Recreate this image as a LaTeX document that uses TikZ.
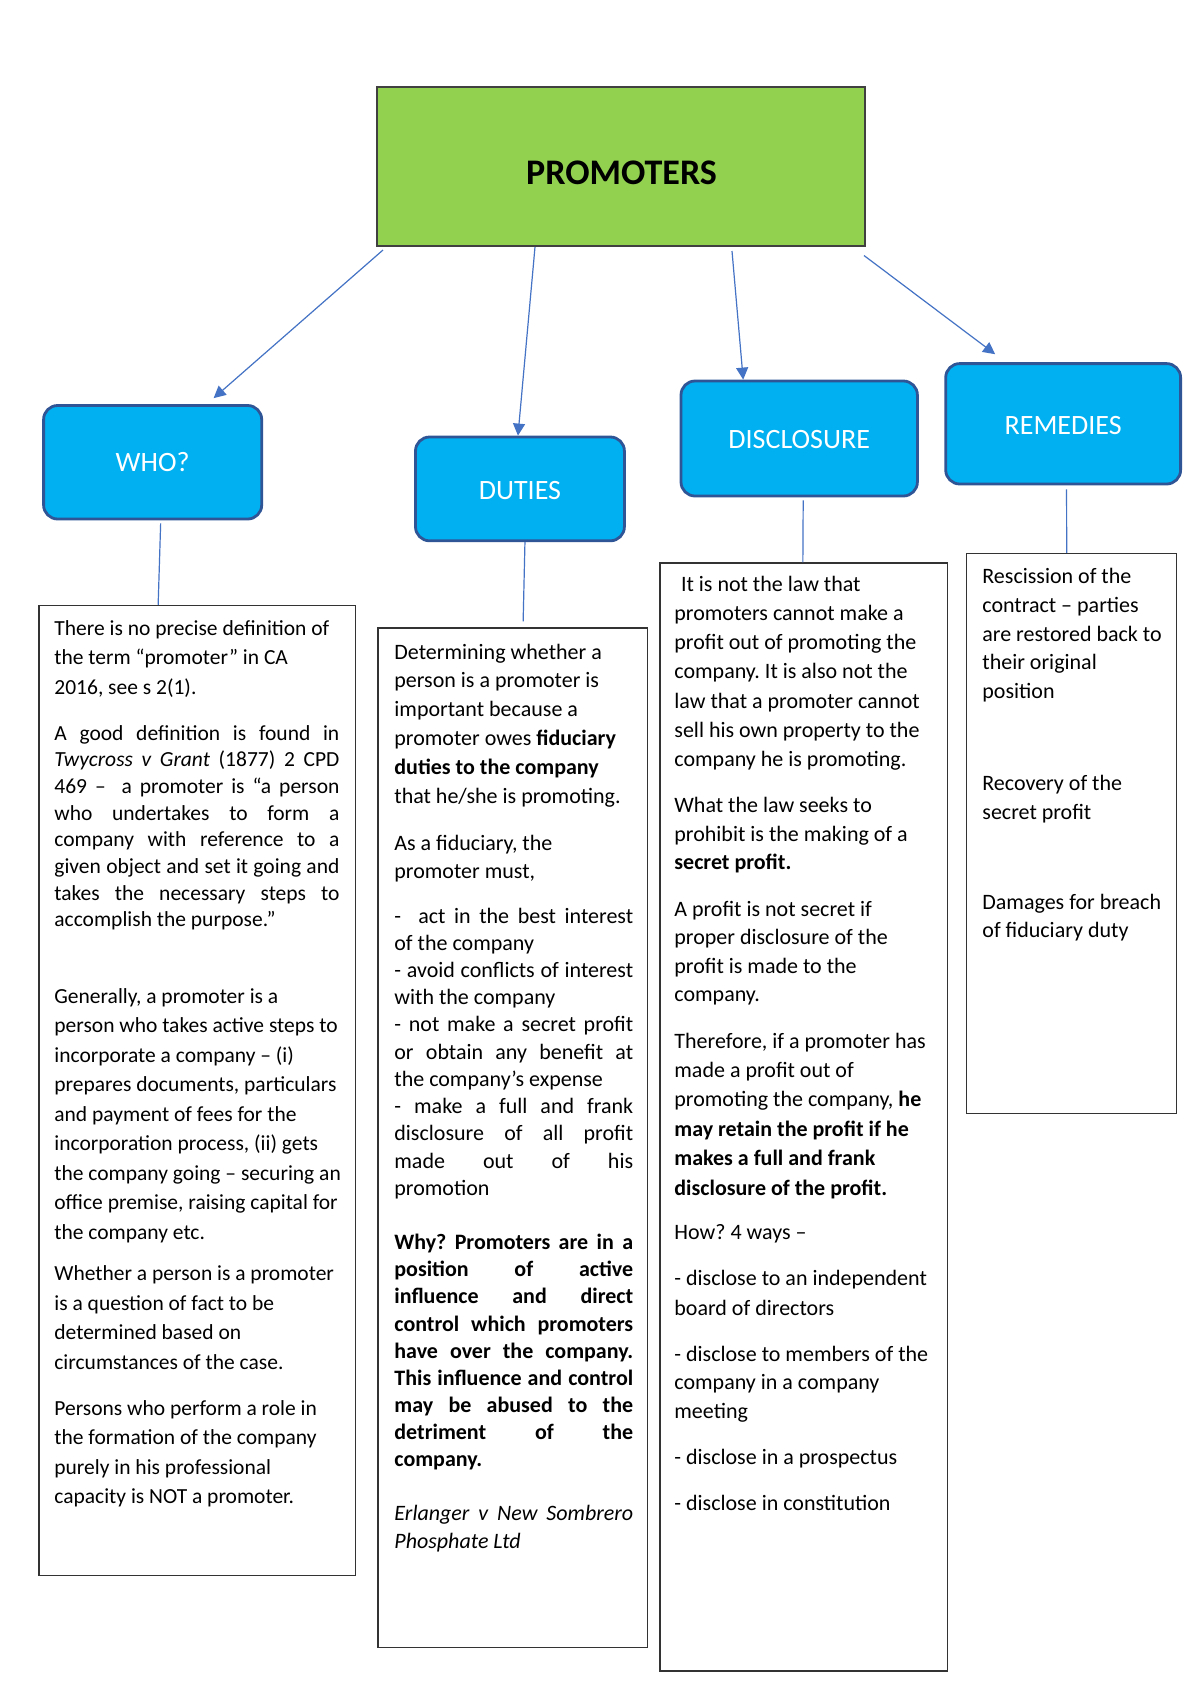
\documentclass[tikz,border=0pt]{standalone}
\usepackage{fontspec}
\setmainfont{Carlito}
\usetikzlibrary{arrows.meta,calc,fit}
\definecolor{pgreen}{HTML}{92D050}
\definecolor{pblue}{HTML}{00B0F0}
\definecolor{pbord}{HTML}{2F5597}
\definecolor{parr}{HTML}{4472C4}
\setlength{\parindent}{0pt}
\frenchspacing
\tolerance=10000
\hyphenpenalty=10000
\hbadness=10000
\hfuzz=20pt
\newcommand\jw[1]{{\spaceskip=0pt\xspaceskip=0pt\makebox[142.5pt][s]{#1}}}
\newcommand\jd[1]{{\spaceskip=0pt\xspaceskip=0pt\makebox[119.4pt][s]{#1}}}
\begin{document}
\begin{tikzpicture}[x=0.5pt,y=-0.5pt,
  prombox/.style={draw=black!75, line width=1pt, fill=pgreen, inner sep=0pt},
  promtext/.style={inner sep=0pt, font=\fontsize{18}{22}\selectfont\bfseries},
  bluebox/.style={draw=pbord, line width=1.4pt, fill=pblue, rounded corners=7pt, inner sep=0pt},
  bluetext/.style={inner sep=0pt, text=white, font=\fontsize{14}{17}\selectfont},
  textbox/.style={draw=black!80, line width=0.75pt, inner sep=0pt},
  arr/.style={draw=parr, line width=0.6pt, -{Triangle[length=6pt,width=6pt]}},
  link/.style={draw=parr, line width=0.6pt},
  rpara/.style={anchor=base west, inner sep=0pt, align=flush left, text width=190pt,
    font=\fontsize{11}{#1}\selectfont},
  wpara/.style={anchor=base west, inner sep=0pt, align=flush left, text width=190pt,
    font=\fontsize{10.75}{#1}\selectfont}
]
\useasboundingbox[fill=white] (0,0) rectangle (1200,1698);

% main box
\node[prombox, fit={(377,87) (865,246)}] (prom) {};
\node[promtext] (promt) at (621.6,173) {PROMOTERS};

% category boxes
\node[bluebox, fit={(43.6,405.5) (261.7,519)}] (who) {};
\node[bluebox, fit={(415.5,437) (624.4,540.8)}] (duties) {};
\node[bluebox, fit={(681,381) (917.4,496)}] (disc) {};
\node[bluebox, fit={(945.7,363.6) (1180.6,484)}] (rem) {};
\node[bluetext] (whol) at (who.center) {WHO?};
\node[bluetext] (dutiesl) at ($(duties.center)+(0,2)$) {DUTIES};
\node[bluetext] (discl) at ($(disc.center)+(0,1.5)$) {DISCLOSURE};
\node[bluetext] (reml) at ($(rem.center)+(0,2)$) {REMEDIES};

% text boxes
\node[textbox, fit={(39,605.5) (355.3,1575.5)}] (whot) {};
\node[textbox, fit={(378,628) (647.3,1647.5)}] (dutt) {};
\node[textbox, fit={(660,563) (947.7,1671)}] (disct) {};
\node[textbox, fit={(966.7,553.7) (1176.7,1113.6)}] (remt) {};

% arrows
\draw[arr] ($(prom.south west)+(7,3)$) -- ($(who.north)+(61,-6)$);
\draw[arr] ($(prom.south west)+(159,0)$) -- ($(duties.north)+(-2,0)$);
\draw[arr] ($(prom.south west)+(356,4)$) -- ($(disc.north)+(-56,0)$);
\draw[arr] ($(prom.south east)+(-2,8.5)$) -- ($(rem.north)+(-68,-8)$);

% links
\draw[link] ($(who.south)+(8,3)$) -- ($(whot.north)+(-39,0)$);
\draw[link] ($(duties.south)+(5,0)$) -- ($(dutt.north)+(10.5,-6)$);
\draw[link] ($(disc.south)+(4,3)$) -- ($(disct.north)+(-1,0)$);
\draw[link] ($(rem.south)+(3.4,4)$) -- ($(remt.north)+(-5,0)$);

% WHO text
\node[wpara=14.65pt] (w1) at (54,635.5) {There is no precise definition of\\ the term “promoter” in CA\\ 2016, see s 2(1).};
\node[wpara=13.35pt] (w2) at (54,740) {\jw{A good definition is found in}\\ \jw{\textit{Twycross v Grant} (1877) 2 CPD}\\ \jw{469 –\ \ a promoter is “a person}\\ \jw{who undertakes to form a}\\ \jw{company with reference to a}\\ \jw{given object and set it going and}\\ \jw{takes the necessary steps to}\\ accomplish the purpose.”};
\node[wpara=14.75pt] (w3) at (54,1003) {Generally, a promoter is a\\ person who takes active steps to\\ incorporate a company – (i)\\ prepares documents, particulars\\ and payment of fees for the\\ incorporation process, (ii) gets\\ the company going – securing an\\ office premise, raising capital for\\ the company etc.};
\node[wpara=14.75pt] (w4) at (54,1280.5) {Whether a person is a promoter\\ is a question of fact to be\\ determined based on\\ circumstances of the case.};
\node[wpara=14.75pt] (w5) at (54,1415) {Persons who perform a role in\\ the formation of the company\\ purely in his professional\\ capacity is NOT a promoter.};

% DUTIES text
\node[rpara=14.45pt] (d1) at (394,659) {Determining whether a\\ person is a promoter is\\ important because a\\ promoter owes \textbf{fiduciary}\\ \textbf{duties to the company}\\ that he/she is promoting.};
\node[rpara=14.3pt] (d2) at (394,850) {As a fiduciary, the\\ promoter must,};
\node[rpara=13.62pt] (d3) at (394,923) {\jd{-\ \ act in the best interest}\\ of the company\\ \jd{- avoid conflicts of interest}\\ with the company\\ \jd{- not make a secret profit}\\ \jd{or obtain any benefit at}\\ the company’s expense\\ \jd{- make a full and frank}\\ \jd{disclosure of all profit}\\ \jd{made out of his}\\ promotion};
\node[rpara=13.55pt] (d4) at (394,1249.7) {\bfseries \jd{Why? Promoters are in a}\\ \jd{position of active}\\ \jd{influence and direct}\\ \jd{control which promoters}\\ \jd{have over the company.}\\ \jd{This influence and control}\\ \jd{may be abused to the}\\ \jd{detriment of the}\\ company.};
\node[rpara=14pt] (d5) at (394,1520.6) {\itshape \jd{Erlanger v New Sombrero}\\ Phosphate Ltd};

% DISCLOSURE text
\node[rpara=14.65pt] (c1) at (674,591) {\hspace{3.3pt}It is not the law that\\ promoters cannot make a\\ profit out of promoting the\\ company. It is also not the\\ law that a promoter cannot\\ sell his own property to the\\ company he is promoting.};
\node[rpara=14.3pt] (c2) at (674,812.5) {What the law seeks to\\ prohibit is the making of a\\ \textbf{secret profit.}};
\node[rpara=14.3pt] (c3) at (674,916) {A profit is not secret if\\ proper disclosure of the\\ profit is made to the\\ company.};
\node[rpara=14.7pt] (c4) at (674,1048) {Therefore, if a promoter has\\ made a profit out of\\ promoting the company, \textbf{he}\\ \textbf{may retain the profit if he}\\ \textbf{makes a full and frank}\\ \textbf{disclosure of the profit.}};
\node[rpara=14.65pt] (c5) at (674,1239) {How? 4 ways –};
\node[rpara=14.9pt] (c6) at (674,1285.7) {- disclose to an independent\\ board of directors};
\node[rpara=14.4pt] (c7) at (674,1361) {- disclose to members of the\\ company in a company\\ meeting};
\node[rpara=14.65pt] (c8) at (674,1464.2) {- disclose in a prospectus};
\node[rpara=14.65pt] (c9) at (674,1510) {- disclose in constitution};

% REMEDIES text
\node[rpara=14.35pt] (r1) at (982,583.6) {Rescission of the\\ contract – parties\\ are restored back to\\ their original\\ position};
\node[rpara=14.5pt] (r2) at (982,790) {Recovery of the\\ secret profit};
\node[rpara=14.3pt] (r3) at (982,909) {Damages for breach\\ of fiduciary duty};
\end{tikzpicture}
\end{document}
